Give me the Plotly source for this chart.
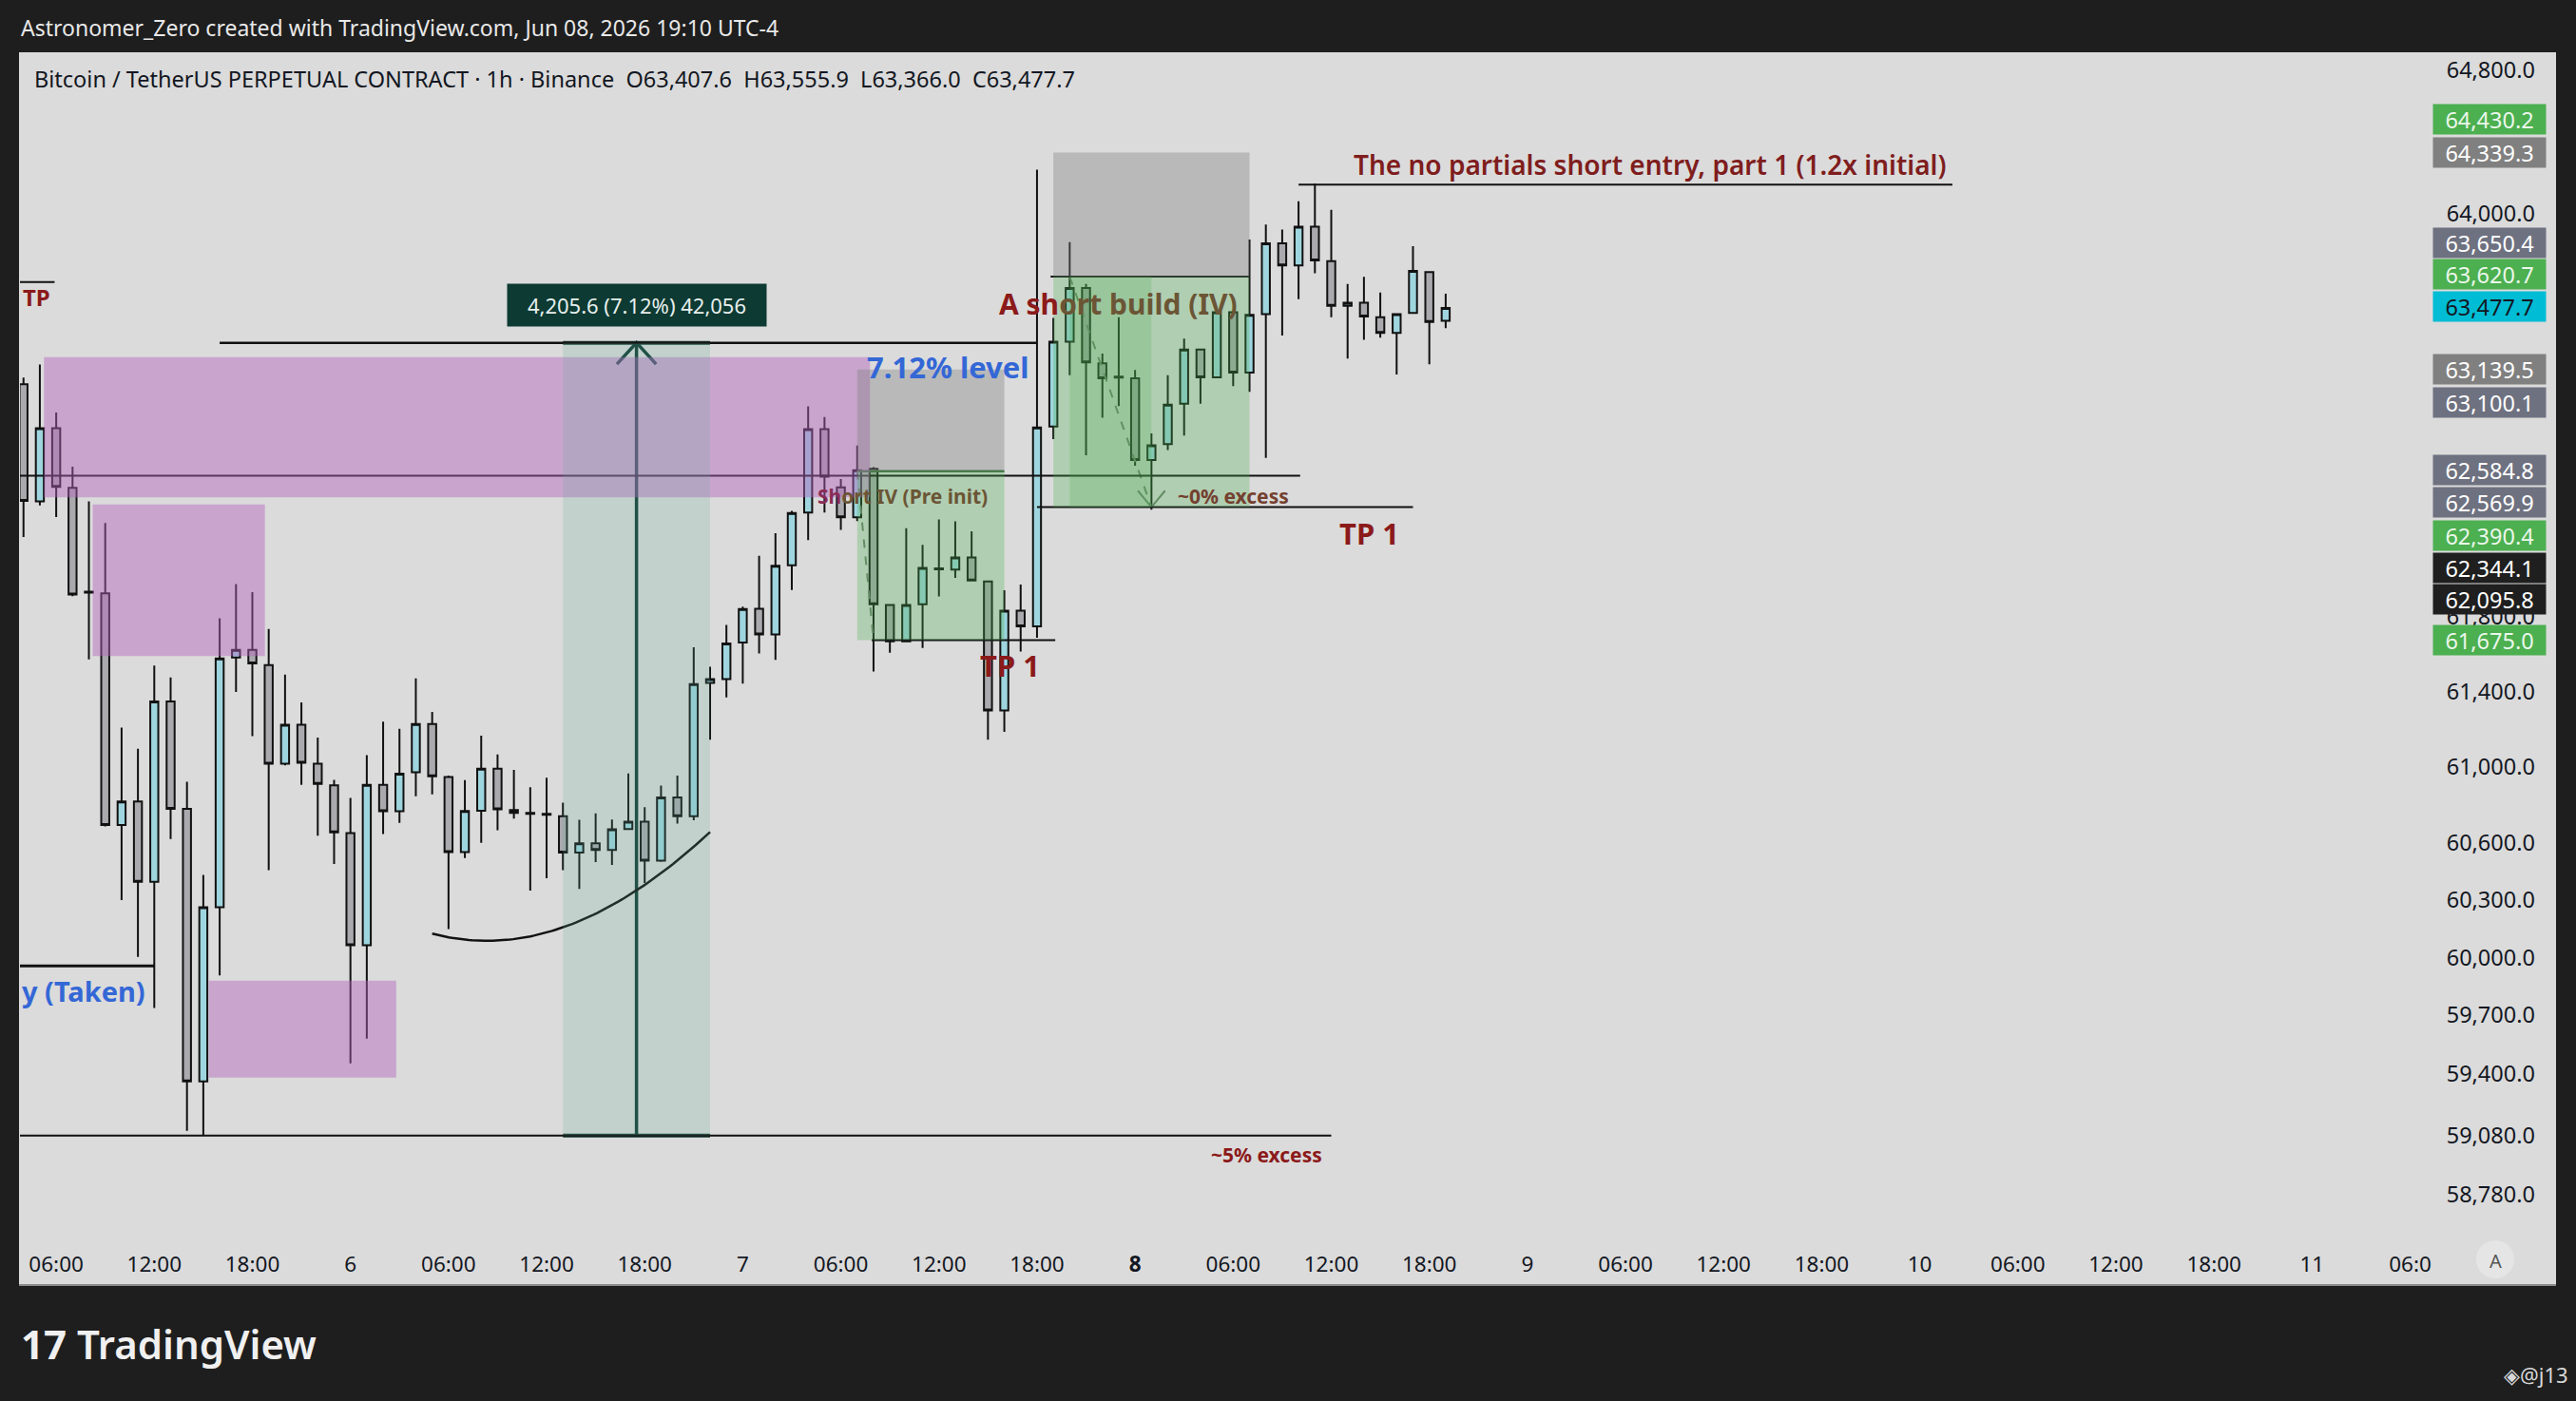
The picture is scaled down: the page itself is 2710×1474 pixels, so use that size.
import math
import numpy as np
import pandas as pd
import plotly.graph_objects as go

FONT = "Noto Sans"

# BTCUSDT.P 1h candles, Jun 5 04:00 -> Jun 8 19:00 (UTC-4)
times = pd.date_range("2026-06-05 04:00", periods=88, freq="h")

opens = [63059, 62422, 62819, 62495, 61935, 61926, 60694, 60818, 60396, 61347,
         60779, 59359, 60262, 61582, 61623, 61542, 61017, 61224, 61017, 60903,
         60651, 60064, 60906, 60766, 60972, 61228, 60947, 60551, 60769, 60991,
         60773, 60757, 60752, 60740, 60549, 60597, 60562, 60673, 60711, 60506,
         60839, 60740, 61446, 61466, 61662, 61843, 61705, 62076, 62361, 62814,
         62498, 62336, 62598, 61863, 61668, 61867, 62060, 62054, 62118, 61990,
         61299, 61832, 61748, 62828, 63292, 63588, 63173, 63100, 63091, 62646,
         62732, 62953, 63249, 63097, 63454, 63123, 63443, 63834, 63712, 63926,
         63736, 63489, 63507, 63426, 63341, 63450, 63675, 63407.6]
highs = [63095, 63167, 62904, 62609, 62422, 62305, 61209, 61096, 61539, 61475,
         60922, 60431, 61792, 61975, 61932, 61735, 61491, 61342, 61156, 60932,
         60837, 61062, 61240, 61203, 61471, 61292, 60955, 60930, 61166, 61066,
         60985, 60893, 60943, 60811, 60721, 60755, 60722, 60966, 60788, 60902,
         60954, 61636, 61533, 61756, 61854, 62127, 62250, 62370, 62938, 62880,
         62543, 62724, 62607, 61866, 62276, 62187, 62324, 62313, 62260, 61995,
         61942, 61973, 64243, 63422, 63841, 63610, 63227, 63426, 63137, 62790,
         63108, 63309, 63252, 63456, 63458, 63856, 63939, 63911, 64068, 64165,
         64020, 63610, 63649, 63563, 63446, 63819, 63678, 63555.9]
lows = [62229, 62400, 62337, 61910, 61572, 60686, 60300, 60003, 59738, 60620,
        59105, 59080.4, 59907, 61398, 61163, 60457, 61009, 60906, 60638, 60489,
        59452, 59580, 60646, 60705, 60845, 60855, 60148, 60520, 60600, 60666,
        60728, 60349, 60414, 60457, 60358, 60499, 60484, 60670, 60389, 60500,
        60701, 60719, 61145, 61369, 61442, 61604, 61569, 61944, 62212, 62361,
        62267, 62315, 61507, 61608, 61665, 61633, 61909, 62008, 61990, 61144,
        61186, 61614, 61688, 62760, 63108, 62672, 62876, 62940, 62615, 62376,
        62700, 62779, 62953, 63091, 63048, 63018, 62657, 63326, 63526, 63669,
        63427, 63200, 63303, 63314, 63112, 63447, 63168, 63366.0]
closes = [62424, 62819, 62500, 61919, 61930, 60694, 60818, 60396, 61347, 60779,
          59359, 60262, 61577, 61623, 61550, 61017, 61224, 61022, 60911, 60655,
          60064, 60906, 60766, 60964, 61228, 60951, 60551, 60767, 60991, 60776,
          60757, 60752, 60748, 60549, 60597, 60562, 60671, 60711, 60506, 60839,
          60740, 61440, 61466, 61657, 61842, 61705, 62074, 62358, 62814, 62555,
          62336, 62590, 61867, 61668, 61863, 62062, 62055, 62118, 61994, 61299,
          61832, 61748, 62823, 63292, 63588, 63179, 63091, 63095, 62646, 62726,
          62947, 63249, 63097, 63454, 63123, 63439, 63834, 63712, 63926, 63740,
          63489, 63507, 63431, 63341, 63443, 63682, 63400, 63477.7]

# price scale
price_ticks = [64800, 64000, 61800, 61400, 61000, 60600, 60300, 60000, 59700, 59400, 59080, 58780]
tag_text = ["64,430.2", "64,339.3", "63,650.4", "63,620.7", "63,477.7", "63,139.5", "63,100.1",
            "62,584.8", "62,569.9", "62,390.4", "62,344.1", "62,095.8", "61,675.0"]
tag_kind = ["green", "gray", "slate", "green", "last", "gray", "slate",
            "slate", "slate", "green", "black", "black", "green"]
# where the stacked tags end up on the scale (TradingView pushes them apart)
tag_at = [64523, 64339, 63837, 63664, 63483, 63140, 62960,
          62594, 62416, 62238, 62061, 61893, 61673]

# drawing levels
measure_low, measure_high = 59080.4, 63286.0
tp_top_left = 63620.7
mid_line = 62560.0
taken_level = 59957.0
pos1 = dict(stop=63139.5, entry=62584.8, target=61675.0)
pos2 = dict(stop=64339.3, entry=63650.4, target=62390.4)
no_partials_level = 64160.0

W, H = 2710, 1474
ML, MR, MT, MB = 21, 155, 55, 169
PW, PH = W - ML - MR, H - MT - MB


def px(x):
    return (x - ML) / PW


def py(y):
    return (H - MB - y) / PH


def lg(p):
    return math.log10(p)


fig = go.Figure()

fig.add_trace(go.Candlestick(
    x=times, open=opens, high=highs, low=lows, close=closes,
    increasing=dict(fillcolor="#9ed5de", line=dict(color="#111111", width=2)),
    decreasing=dict(fillcolor="#a9a9ae", line=dict(color="#111111", width=2)),
    whiskerwidth=0, hoverinfo="skip", showlegend=False))


def seg(xs, ys, color="#111111", width=2, dash="solid"):
    fig.add_trace(go.Scatter(x=xs, y=ys, mode="lines", hoverinfo="skip", showlegend=False,
                             line=dict(color=color, width=width, dash=dash)))


def box(x0, x1, y0, y1, color):
    fig.add_shape(type="rect", xref="x", yref="y", x0=x0, x1=x1, y0=y0, y1=y1,
                  fillcolor=color, line_width=0, layer="above")


def note(x, price, text, size, color, xanchor="center", yanchor="middle", weight=700, xref="x", **kw):
    fig.add_annotation(x=x, y=lg(price), xref=xref, yref="y", text=text, showarrow=False,
                       font=dict(family=FONT, size=size, color=color, weight=weight),
                       xanchor=xanchor, yanchor=yanchor, **kw)


# supply / demand zones
purple = "rgba(180,100,190,0.45)"
box("2026-06-05 05:15", "2026-06-07 07:47", 62444, 63207, purple)
box("2026-06-05 08:14", "2026-06-05 18:46", 61590, 62405, purple)
box("2026-06-05 15:20", "2026-06-06 02:48", 59379, 59880, purple)

# measure tool
box("2026-06-06 13:00", "2026-06-06 22:00", measure_low, measure_high, "rgba(100,170,150,0.2)")
seg(["2026-06-06 13:00", "2026-06-06 22:00"], [measure_high, measure_high], "#163f37", 4)
seg(["2026-06-06 13:00", "2026-06-06 22:00"], [measure_low, measure_low], "#163f37", 4)
seg(["2026-06-06 17:30", "2026-06-06 17:30"], [measure_low, measure_high], "#0f3b33", 3.5)
head = measure_high * math.exp(-13 / 7016)
seg(["2026-06-06 16:18", "2026-06-06 17:30", "2026-06-06 18:42"], [head, measure_high, head], "#0f3b33", 3.5)

# short position 1
box("2026-06-07 07:00", "2026-06-07 16:00", pos1["entry"], pos1["stop"], "rgba(128,128,128,0.38)")
box("2026-06-07 07:00", "2026-06-07 16:00", pos1["target"], pos1["entry"], "rgba(76,175,80,0.3)")
seg(["2026-06-07 07:00", "2026-06-07 16:00"], [pos1["entry"], pos1["entry"]], "#3c6e3e", 2.5)
seg(["2026-06-07 07:00", "2026-06-07 08:00"], [pos1["entry"], pos1["target"]], "#6d7d6d", 2, "dash")

# short position 2
box("2026-06-07 19:00", "2026-06-08 07:00", pos2["entry"], pos2["stop"], "rgba(128,128,128,0.38)")
box("2026-06-07 19:00", "2026-06-08 07:00", pos2["target"], pos2["entry"], "rgba(76,175,80,0.3)")
box("2026-06-07 20:00", "2026-06-08 01:00", pos2["target"], pos2["entry"], "rgba(76,175,80,0.22)")
seg(["2026-06-07 20:00", "2026-06-08 01:00"], [pos2["entry"], pos2["target"]], "#6d7d6d", 2, "dash")
tip = pos2["target"] * math.exp(10 / 7016)
seg(["2026-06-08 00:10", "2026-06-08 01:00", "2026-06-08 01:50"], [tip, pos2["target"], tip], "#6d7d6d", 2)

# horizontal lines
start = "2026-06-05 03:00"
seg([start, "2026-06-05 05:54"], [tp_top_left, tp_top_left])
seg([start, "2026-06-08 10:06"], [mid_line, mid_line])
seg([start, "2026-06-05 12:00"], [taken_level, taken_level], width=3)
seg([start, "2026-06-08 12:00"], [measure_low, measure_low])
seg(["2026-06-05 16:00", "2026-06-07 18:00"], [measure_high, measure_high], width=2.5)
seg(["2026-06-07 07:53", "2026-06-07 19:07"], [pos1["target"], pos1["target"]])
seg(["2026-06-07 18:50", "2026-06-08 07:00"], [pos2["entry"], pos2["entry"]])
seg(["2026-06-07 18:00", "2026-06-08 17:00"], [pos2["target"], pos2["target"]])
seg(["2026-06-08 10:00", "2026-06-10 02:00"], [no_partials_level, no_partials_level])

# rounding-bottom arc (quadratic bezier through the drawing's anchors)
arc_hours = [5, 13, 22]
arc_price = [60125, 59940, 60657]
s = np.linspace(0, 1, 80)
bh = (1 - s) ** 2 * arc_hours[0] + 2 * (1 - s) * s * arc_hours[1] + s ** 2 * arc_hours[2]
bl = ((1 - s) ** 2 * np.log(arc_price[0]) + 2 * (1 - s) * s * np.log(arc_price[1])
      + s ** 2 * np.log(arc_price[2]))
seg(pd.Timestamp("2026-06-06") + pd.to_timedelta(bh, unit="h"), np.exp(bl), "#111111", 2.5)

# text drawings
red = "#8b1a1a"
blue = "#3467d6"
brown = "#6b5535"
note(px(22), 63537, "TP", 24, red, xanchor="left", xref="paper")
note(px(21), 59829, "y (Taken)", 29, blue, xanchor="left", xref="paper")
note("2026-06-08 11:35", 58981, "~5% excess", 21, red, xanchor="right")
note("2026-06-07 07:30", 63155, "7.12% level", 31, blue, xanchor="left")
note("2026-06-07 09:47", 62452, "<span style='color:#8a2c55'>Sh</span>ort IV (Pre init)", 21, brown)
note("2026-06-07 16:20", 61541, "TP 1", 31, red)
note("2026-06-07 23:00", 63501, "A sh<span style='color:#6b5535'>ort build (IV)</span>", 30, red)
note("2026-06-08 06:00", 62451, "~0% excess", 21, "#74402f")
note("2026-06-08 14:20", 62250, "TP 1", 31, red)
note("2026-06-09 07:30", 64275, "The no partials short entry, part 1 (1.2x initial)", 28, "#7f1d1d", weight=600)
fig.add_annotation(x="2026-06-06 17:30", y=lg(measure_high), xref="x", yref="y",
                   text="4,205.6 (7.12%) 42,056", showarrow=False, yanchor="bottom", yshift=17,
                   font=dict(family=FONT, size=22, color="#e6efed"), bgcolor="#0d3a32",
                   width=272, height=44, borderpad=0)

# price scale tags
tag_style = {"green": ("#4caf50", "#eaf7ea"), "gray": ("#808080", "#ffffff"),
             "slate": ("#6e7180", "#ffffff"), "last": ("#00bcd4", "#131722"),
             "black": ("#1f1f1f", "#ffffff")}
for label, kind, at in zip(tag_text, tag_kind, tag_at):
    bg, fg = tag_style[kind]
    fig.add_annotation(x=px(2559), y=lg(at), xref="paper", yref="y", text=label, showarrow=False,
                       xanchor="left", yanchor="middle", bgcolor=bg, width=118, height=31, borderpad=0,
                       font=dict(family=FONT, size=23.5, color=fg))

# frame: dark header / footer around the light chart pane
dark = "#1e1e1e"
for x0, x1, y0, y1 in [(0, W, 0, 55), (0, W, 1353, H), (0, 20, 0, H), (2689, W, 0, H)]:
    fig.add_shape(type="rect", xref="paper", yref="paper", x0=px(x0), x1=px(x1),
                  y0=py(y1), y1=py(y0), fillcolor=dark, line_width=0, layer="above")
fig.add_shape(type="line", xref="paper", yref="paper", x0=px(20), x1=px(2689), y0=py(1352), y1=py(1352),
              line=dict(color="#8a8a8a", width=2), layer="above")

fig.add_annotation(x=px(20), y=py(29), xref="paper", yref="paper", xanchor="left", yanchor="middle",
                   text="Astronomer_Zero created with TradingView.com, Jun 08, 2026 19:10 UTC-4",
                   showarrow=False, font=dict(family=FONT, size=23, color="#e8e8e8"))
fig.add_annotation(x=px(34), y=py(83), xref="paper", yref="paper", xanchor="left", yanchor="middle",
                   text="Bitcoin / TetherUS PERPETUAL CONTRACT · 1h · Binance  O63,407.6  H63,555.9  "
                        "L63,366.0  C63,477.7",
                   showarrow=False, font=dict(family=FONT, size=23.5, color="#131722"))
fig.add_annotation(x=px(20), y=py(1413), xref="paper", yref="paper", xanchor="left", yanchor="middle",
                   text="<b>17</b> TradingView", showarrow=False,
                   font=dict(family=FONT, size=42, color="#f0f0f0", weight=600))
fig.add_annotation(x=px(2704), y=py(1446), xref="paper", yref="paper", xanchor="right", yanchor="middle",
                   text="◈@j13", showarrow=False, font=dict(family=FONT, size=22, color="#d8d8d8"))
fig.add_shape(type="circle", xref="paper", yref="paper", x0=px(2605), x1=px(2645), y0=py(1345), y1=py(1305),
              fillcolor="#e5e5e5", line_width=0, layer="above")
fig.add_annotation(x=px(2625), y=py(1326), xref="paper", yref="paper", xanchor="center", yanchor="middle",
                   text="A", showarrow=False, font=dict(family=FONT, size=20, color="#555555"))

# time scale
xt = pd.date_range("2026-06-05 06:00", "2026-06-11 06:00", freq="6h")
xl = []
for ts in xt:
    if ts.hour == 0:
        xl.append("<b>8</b>" if ts.day == 8 else str(ts.day))
    else:
        xl.append(ts.strftime("%H:%M"))
xl[-1] = "06:0"  # cut off by the price scale in the original

fig.update_layout(
    width=W, height=H,
    margin=dict(l=ML, r=MR, t=MT, b=MB, pad=0),
    paper_bgcolor="#dbdbdb", plot_bgcolor="#dbdbdb",
    font=dict(family=FONT, size=22, color="#131722"),
    showlegend=False, hovermode=False,
    xaxis=dict(type="date", range=["2026-06-05 03:47", "2026-06-11 07:08"],
               rangeslider=dict(visible=False), showgrid=False, zeroline=False, showline=False,
               tickmode="array", tickvals=xt, ticktext=xl, ticks="outside", ticklen=5,
               tickcolor="rgba(0,0,0,0)", tickfont=dict(size=22.5, color="#131722")),
    yaxis=dict(type="log", side="right", range=[lg(58546), lg(64901)], showgrid=False,
               zeroline=False, showline=False, tickmode="array", tickvals=price_ticks,
               ticktext=[f"{v:,.1f}" for v in price_ticks], ticks="outside", ticklen=13,
               tickcolor="rgba(0,0,0,0)", tickfont=dict(size=23.5, color="#131722")),
)

fig.write_html("out.html", config={"displayModeBar": False},
               post_script="document.body.style.margin='0';document.body.style.overflow='hidden';")
